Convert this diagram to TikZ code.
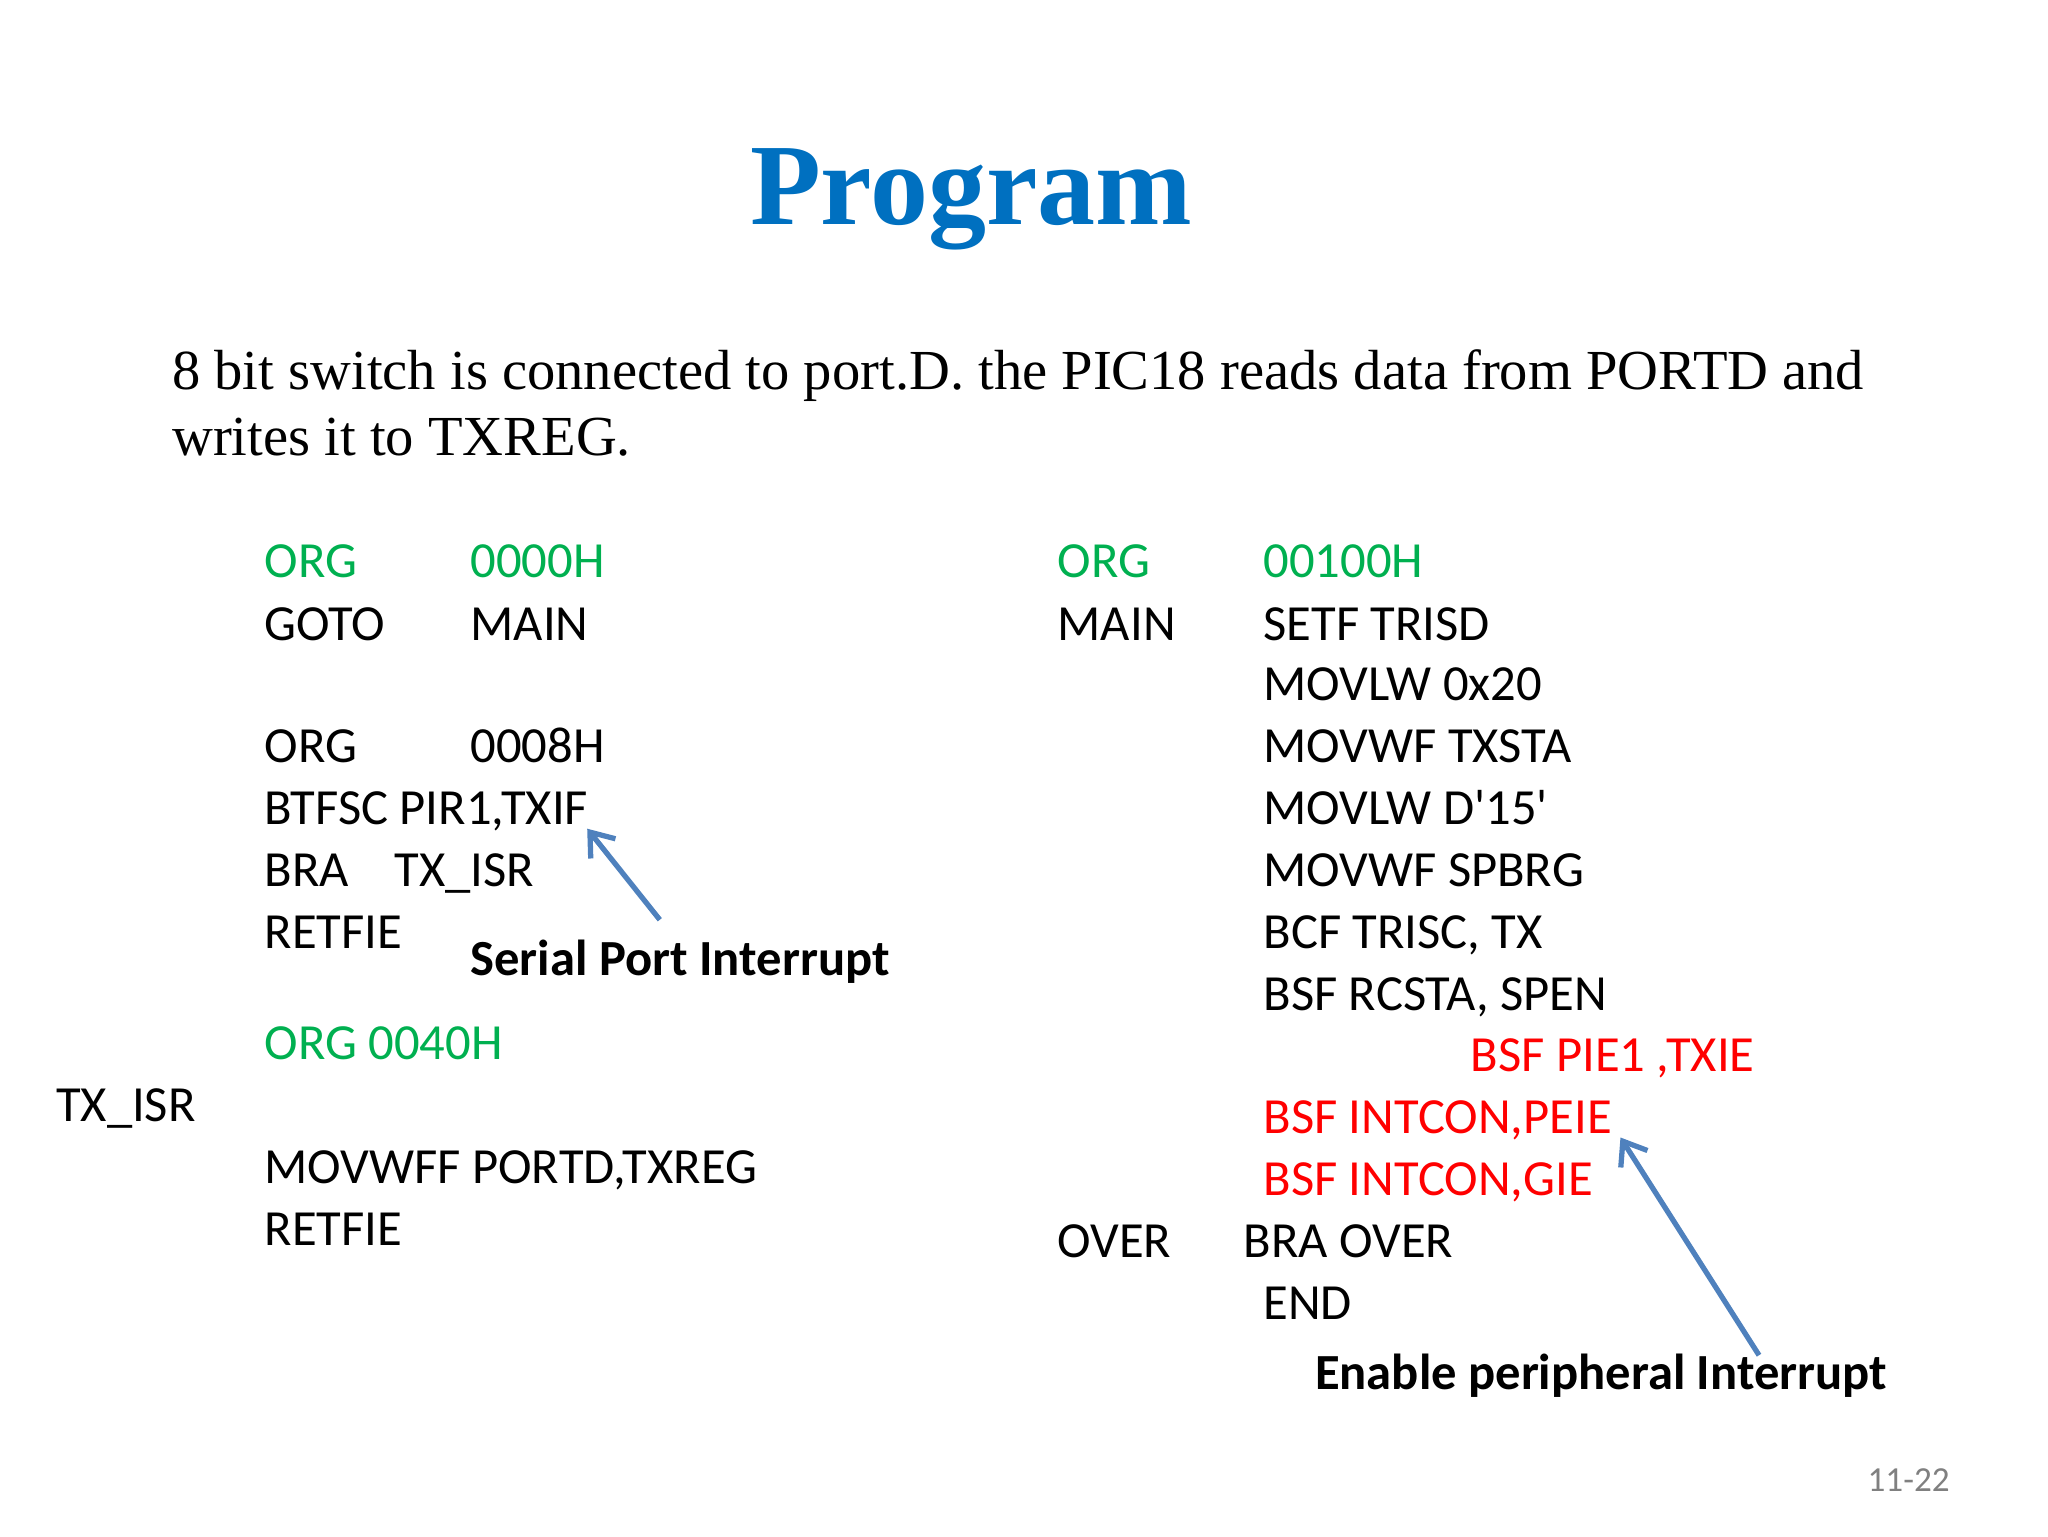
\documentclass[tikz,border=0pt]{standalone}
\usepackage{fontspec}
\usetikzlibrary{arrows.meta}
\setmainfont{Liberation Serif}
\newfontfamily\calfont{Carlito}
\definecolor{ttl}{RGB}{0,112,192}
\definecolor{grn}{RGB}{0,176,80}
\definecolor{rd}{RGB}{255,0,0}
\definecolor{arr}{RGB}{79,129,189}
\begin{document}
\begin{tikzpicture}[x=0.013196cm,y=-0.013196cm,
 code/.style={anchor=base west,inner sep=0,font=\calfont\fontsize{14.4}{17}\selectfont},
 g/.style={code,text=grn}, r/.style={code,text=rd},
 lbl/.style={code,font=\calfont\bfseries\fontsize{14.4}{17}\selectfont},
 ar/.style={draw=arr,line width=1.5pt,-{Straight Barb[length=6pt,width=9pt]}}]
\useasboundingbox (0,0) rectangle (1552,1164);
\node[anchor=base,inner sep=0,text=ttl,font=\bfseries\fontsize{33}{40}\selectfont] (title) at (736,170) {Program};
\node[anchor=base west,inner sep=0,font=\fontsize{16.1}{20}\selectfont] (p1) at (130,295) {8 bit switch is connected to port.D. the PIC18 reads data from PORTD and};
\node[anchor=base west,inner sep=0,font=\fontsize{16.1}{20}\selectfont] (p2) at (130,345) {writes it to TXREG.};
% left column
\node[g] (l1) at (200,438) {ORG}; \node[g] (l1b) at (356,438) {0000H};
\node[code] (l2) at (200,485) {GOTO}; \node[code] (l2b) at (356,485) {MAIN};
\node[code] (l3) at (200,578) {ORG}; \node[code] (l3b) at (356,578) {0008H};
\node[code] (l4) at (200,625) {BTFSC PIR1,TXIF};
\node[code] (l5) at (200,672) {BRA\hspace{0.9em}TX\_ISR};
\node[code] (l6) at (200,719) {RETFIE};
\node[lbl] (s1) at (356,739) {Serial Port Interrupt};
\node[g] (l7) at (200,803) {ORG 0040H};
\node[code] (l8) at (42,850) {TX\_ISR};
\node[code] (l9) at (200,897) {MOVWFF PORTD,TXREG};
\node[code] (l10) at (200,944) {RETFIE};
% right column
\node[g] (r1) at (801,438) {ORG}; \node[g] (r1b) at (957,438) {00100H};
\node[code] (r2) at (801,485) {MAIN}; \node[code] (r2b) at (957,485) {SETF TRISD};
\node[code] (r3) at (957,531) {MOVLW 0x20};
\node[code] (r4) at (957,578) {MOVWF TXSTA};
\node[code] (r5) at (957,625) {MOVLW D'15'};
\node[code] (r6) at (957,672) {MOVWF SPBRG};
\node[code] (r7) at (957,719) {BCF TRISC, TX};
\node[code] (r8) at (957,766) {BSF RCSTA, SPEN};
\node[r] (r9) at (1114,812) {BSF PIE1 ,TXIE};
\node[r] (r10) at (957,859) {BSF INTCON,PEIE};
\node[r] (r11) at (957,906) {BSF INTCON,GIE};
\node[code] (r12) at (801,953) {OVER}; \node[code] (r12b) at (942,953) {BRA OVER};
\node[code] (r13) at (957,1000) {END};
\node[lbl] (s2) at (996,1053) {Enable peripheral Interrupt};
\node[anchor=base east,inner sep=0,text=gray,font=\calfont\fontsize{10}{12}\selectfont] (pg) at (1478,1130) {11-22};
\coordinate (a1s) at (500,697); \coordinate (a1e) at (445,628);
\coordinate (a2s) at (1333,1027); \coordinate (a2e) at (1228,862);
\draw[ar] (a1s) -- (a1e);
\draw[ar] (a2s) -- (a2e);
\end{tikzpicture}
\end{document}
